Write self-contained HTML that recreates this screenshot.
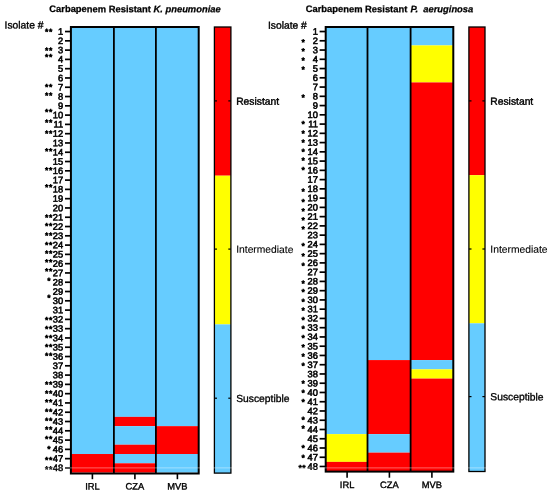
<!DOCTYPE html>
<html lang="en"><head><meta charset="utf-8"><title>Carbapenem Resistant isolates</title>
<style>html,body{margin:0;padding:0;background:#fff}body{width:550px;height:494px;overflow:hidden}svg{display:block}text{font-family:"Liberation Sans",sans-serif;fill:#000}.n{font-size:9.33px;text-anchor:end;stroke:#000;stroke-width:.55px}.a{font-size:8.6px;text-anchor:middle;stroke:#000;stroke-width:.65px;letter-spacing:.45px}.x{font-size:9.33px;text-anchor:middle;stroke:#000;stroke-width:.35px}.l{font-size:10.3px;stroke:#000;stroke-width:.12px}.iso{stroke-width:.35px}.lr{stroke-width:.4px}.ls{stroke-width:.32px}.t{font-size:9.4px;font-weight:bold;stroke:#000;stroke-width:.25px}.i{font-style:italic}</style></head><body>
<svg width="550" height="494" viewBox="0 0 550 494">
<rect width="550" height="494" fill="#fff"/>
<rect x="70.90" y="26.90" width="43.00" height="427.11" fill="#66ccff"/>
<rect x="70.90" y="454.01" width="43.00" height="18.57" fill="#ff0000"/>
<rect x="113.90" y="26.90" width="42.00" height="389.97" fill="#66ccff"/>
<rect x="113.90" y="416.87" width="42.00" height="9.28" fill="#ff0000"/>
<rect x="113.90" y="426.15" width="42.00" height="18.57" fill="#66ccff"/>
<rect x="113.90" y="444.72" width="42.00" height="9.29" fill="#ff0000"/>
<rect x="113.90" y="454.01" width="42.00" height="9.28" fill="#66ccff"/>
<rect x="113.90" y="463.29" width="42.00" height="9.29" fill="#ff0000"/>
<rect x="155.90" y="26.90" width="42.80" height="399.25" fill="#66ccff"/>
<rect x="155.90" y="426.15" width="42.80" height="27.86" fill="#ff0000"/>
<rect x="155.90" y="454.01" width="42.80" height="18.57" fill="#66ccff"/>
<rect x="70.90" y="27" width="127.80" height="446.50" fill="none" stroke="#000" stroke-width="2"/>
<line x1="113.90" y1="27" x2="113.90" y2="473.50" stroke="#000" stroke-width="1.8"/>
<line x1="155.90" y1="27" x2="155.90" y2="473.50" stroke="#000" stroke-width="1.8"/>
<line x1="65.00" y1="31.54" x2="70.90" y2="31.54" stroke="#000" stroke-width="1.7"/>
<text class="n" x="63.20" y="34.74" transform="rotate(0.05 63.20 34.74)">1</text>
<line x1="65.00" y1="40.83" x2="70.90" y2="40.83" stroke="#000" stroke-width="1.7"/>
<text class="n" x="63.20" y="44.03" transform="rotate(0.05 63.20 44.03)">2</text>
<line x1="65.00" y1="50.11" x2="70.90" y2="50.11" stroke="#000" stroke-width="1.7"/>
<text class="n" x="63.20" y="53.31" transform="rotate(0.05 63.20 53.31)">3</text>
<line x1="65.00" y1="59.40" x2="70.90" y2="59.40" stroke="#000" stroke-width="1.7"/>
<text class="n" x="63.20" y="62.60" transform="rotate(0.05 63.20 62.60)">4</text>
<line x1="65.00" y1="68.68" x2="70.90" y2="68.68" stroke="#000" stroke-width="1.7"/>
<text class="n" x="63.20" y="71.88" transform="rotate(0.05 63.20 71.88)">5</text>
<line x1="65.00" y1="77.97" x2="70.90" y2="77.97" stroke="#000" stroke-width="1.7"/>
<text class="n" x="63.20" y="81.17" transform="rotate(0.05 63.20 81.17)">6</text>
<line x1="65.00" y1="87.25" x2="70.90" y2="87.25" stroke="#000" stroke-width="1.7"/>
<text class="n" x="63.20" y="90.45" transform="rotate(0.05 63.20 90.45)">7</text>
<line x1="65.00" y1="96.54" x2="70.90" y2="96.54" stroke="#000" stroke-width="1.7"/>
<text class="n" x="63.20" y="99.74" transform="rotate(0.05 63.20 99.74)">8</text>
<line x1="65.00" y1="105.82" x2="70.90" y2="105.82" stroke="#000" stroke-width="1.7"/>
<text class="n" x="63.20" y="109.02" transform="rotate(0.05 63.20 109.02)">9</text>
<line x1="65.00" y1="115.11" x2="70.90" y2="115.11" stroke="#000" stroke-width="1.7"/>
<text class="n" x="63.20" y="118.31" transform="rotate(0.05 63.20 118.31)">10</text>
<line x1="65.00" y1="124.39" x2="70.90" y2="124.39" stroke="#000" stroke-width="1.7"/>
<text class="n" x="63.20" y="127.59" transform="rotate(0.05 63.20 127.59)">11</text>
<line x1="65.00" y1="133.68" x2="70.90" y2="133.68" stroke="#000" stroke-width="1.7"/>
<text class="n" x="63.20" y="136.88" transform="rotate(0.05 63.20 136.88)">12</text>
<line x1="65.00" y1="142.96" x2="70.90" y2="142.96" stroke="#000" stroke-width="1.7"/>
<text class="n" x="63.20" y="146.16" transform="rotate(0.05 63.20 146.16)">13</text>
<line x1="65.00" y1="152.25" x2="70.90" y2="152.25" stroke="#000" stroke-width="1.7"/>
<text class="n" x="63.20" y="155.45" transform="rotate(0.05 63.20 155.45)">14</text>
<line x1="65.00" y1="161.53" x2="70.90" y2="161.53" stroke="#000" stroke-width="1.7"/>
<text class="n" x="63.20" y="164.73" transform="rotate(0.05 63.20 164.73)">15</text>
<line x1="65.00" y1="170.82" x2="70.90" y2="170.82" stroke="#000" stroke-width="1.7"/>
<text class="n" x="63.20" y="174.02" transform="rotate(0.05 63.20 174.02)">16</text>
<line x1="65.00" y1="180.10" x2="70.90" y2="180.10" stroke="#000" stroke-width="1.7"/>
<text class="n" x="63.20" y="183.30" transform="rotate(0.05 63.20 183.30)">17</text>
<line x1="65.00" y1="189.39" x2="70.90" y2="189.39" stroke="#000" stroke-width="1.7"/>
<text class="n" x="63.20" y="192.59" transform="rotate(0.05 63.20 192.59)">18</text>
<line x1="65.00" y1="198.67" x2="70.90" y2="198.67" stroke="#000" stroke-width="1.7"/>
<text class="n" x="63.20" y="201.87" transform="rotate(0.05 63.20 201.87)">19</text>
<line x1="65.00" y1="207.96" x2="70.90" y2="207.96" stroke="#000" stroke-width="1.7"/>
<text class="n" x="63.20" y="211.16" transform="rotate(0.05 63.20 211.16)">20</text>
<line x1="65.00" y1="217.24" x2="70.90" y2="217.24" stroke="#000" stroke-width="1.7"/>
<text class="n" x="63.20" y="220.44" transform="rotate(0.05 63.20 220.44)">21</text>
<line x1="65.00" y1="226.53" x2="70.90" y2="226.53" stroke="#000" stroke-width="1.7"/>
<text class="n" x="63.20" y="229.73" transform="rotate(0.05 63.20 229.73)">22</text>
<line x1="65.00" y1="235.81" x2="70.90" y2="235.81" stroke="#000" stroke-width="1.7"/>
<text class="n" x="63.20" y="239.01" transform="rotate(0.05 63.20 239.01)">23</text>
<line x1="65.00" y1="245.10" x2="70.90" y2="245.10" stroke="#000" stroke-width="1.7"/>
<text class="n" x="63.20" y="248.30" transform="rotate(0.05 63.20 248.30)">24</text>
<line x1="65.00" y1="254.38" x2="70.90" y2="254.38" stroke="#000" stroke-width="1.7"/>
<text class="n" x="63.20" y="257.58" transform="rotate(0.05 63.20 257.58)">25</text>
<line x1="65.00" y1="263.67" x2="70.90" y2="263.67" stroke="#000" stroke-width="1.7"/>
<text class="n" x="63.20" y="266.87" transform="rotate(0.05 63.20 266.87)">26</text>
<line x1="65.00" y1="272.95" x2="70.90" y2="272.95" stroke="#000" stroke-width="1.7"/>
<text class="n" x="63.20" y="276.15" transform="rotate(0.05 63.20 276.15)">27</text>
<line x1="65.00" y1="282.24" x2="70.90" y2="282.24" stroke="#000" stroke-width="1.7"/>
<text class="n" x="63.20" y="285.44" transform="rotate(0.05 63.20 285.44)">28</text>
<line x1="65.00" y1="291.52" x2="70.90" y2="291.52" stroke="#000" stroke-width="1.7"/>
<text class="n" x="63.20" y="294.72" transform="rotate(0.05 63.20 294.72)">29</text>
<line x1="65.00" y1="300.81" x2="70.90" y2="300.81" stroke="#000" stroke-width="1.7"/>
<text class="n" x="63.20" y="304.01" transform="rotate(0.05 63.20 304.01)">30</text>
<line x1="65.00" y1="310.09" x2="70.90" y2="310.09" stroke="#000" stroke-width="1.7"/>
<text class="n" x="63.20" y="313.29" transform="rotate(0.05 63.20 313.29)">31</text>
<line x1="65.00" y1="319.38" x2="70.90" y2="319.38" stroke="#000" stroke-width="1.7"/>
<text class="n" x="63.20" y="322.58" transform="rotate(0.05 63.20 322.58)">32</text>
<line x1="65.00" y1="328.66" x2="70.90" y2="328.66" stroke="#000" stroke-width="1.7"/>
<text class="n" x="63.20" y="331.86" transform="rotate(0.05 63.20 331.86)">33</text>
<line x1="65.00" y1="337.95" x2="70.90" y2="337.95" stroke="#000" stroke-width="1.7"/>
<text class="n" x="63.20" y="341.15" transform="rotate(0.05 63.20 341.15)">34</text>
<line x1="65.00" y1="347.23" x2="70.90" y2="347.23" stroke="#000" stroke-width="1.7"/>
<text class="n" x="63.20" y="350.43" transform="rotate(0.05 63.20 350.43)">35</text>
<line x1="65.00" y1="356.52" x2="70.90" y2="356.52" stroke="#000" stroke-width="1.7"/>
<text class="n" x="63.20" y="359.72" transform="rotate(0.05 63.20 359.72)">36</text>
<line x1="65.00" y1="365.80" x2="70.90" y2="365.80" stroke="#000" stroke-width="1.7"/>
<text class="n" x="63.20" y="369.00" transform="rotate(0.05 63.20 369.00)">37</text>
<line x1="65.00" y1="375.09" x2="70.90" y2="375.09" stroke="#000" stroke-width="1.7"/>
<text class="n" x="63.20" y="378.29" transform="rotate(0.05 63.20 378.29)">38</text>
<line x1="65.00" y1="384.37" x2="70.90" y2="384.37" stroke="#000" stroke-width="1.7"/>
<text class="n" x="63.20" y="387.57" transform="rotate(0.05 63.20 387.57)">39</text>
<line x1="65.00" y1="393.66" x2="70.90" y2="393.66" stroke="#000" stroke-width="1.7"/>
<text class="n" x="63.20" y="396.86" transform="rotate(0.05 63.20 396.86)">40</text>
<line x1="65.00" y1="402.94" x2="70.90" y2="402.94" stroke="#000" stroke-width="1.7"/>
<text class="n" x="63.20" y="406.14" transform="rotate(0.05 63.20 406.14)">41</text>
<line x1="65.00" y1="412.23" x2="70.90" y2="412.23" stroke="#000" stroke-width="1.7"/>
<text class="n" x="63.20" y="415.43" transform="rotate(0.05 63.20 415.43)">42</text>
<line x1="65.00" y1="421.51" x2="70.90" y2="421.51" stroke="#000" stroke-width="1.7"/>
<text class="n" x="63.20" y="424.71" transform="rotate(0.05 63.20 424.71)">43</text>
<line x1="65.00" y1="430.80" x2="70.90" y2="430.80" stroke="#000" stroke-width="1.7"/>
<text class="n" x="63.20" y="434.00" transform="rotate(0.05 63.20 434.00)">44</text>
<line x1="65.00" y1="440.08" x2="70.90" y2="440.08" stroke="#000" stroke-width="1.7"/>
<text class="n" x="63.20" y="443.28" transform="rotate(0.05 63.20 443.28)">45</text>
<line x1="65.00" y1="449.37" x2="70.90" y2="449.37" stroke="#000" stroke-width="1.7"/>
<text class="n" x="63.20" y="452.57" transform="rotate(0.05 63.20 452.57)">46</text>
<line x1="65.00" y1="458.65" x2="70.90" y2="458.65" stroke="#000" stroke-width="1.7"/>
<text class="n" x="63.20" y="461.85" transform="rotate(0.05 63.20 461.85)">47</text>
<line x1="65.00" y1="467.94" x2="70.90" y2="467.94" stroke="#000" stroke-width="1.7"/>
<text class="n" x="63.20" y="471.14" transform="rotate(0.05 63.20 471.14)">48</text>
<text class="a" x="48.90" y="34.80" transform="rotate(0.05 48.90 34.80)">**</text>
<text class="a" x="48.90" y="53.60" transform="rotate(0.05 48.90 53.60)">**</text>
<text class="a" x="48.90" y="60.00" transform="rotate(0.05 48.90 60.00)">**</text>
<text class="a" x="48.90" y="90.10" transform="rotate(0.05 48.90 90.10)">**</text>
<text class="a" x="48.90" y="98.40" transform="rotate(0.05 48.90 98.40)">**</text>
<text class="a" x="48.90" y="115.00" transform="rotate(0.05 48.90 115.00)">**</text>
<text class="a" x="48.90" y="125.60" transform="rotate(0.05 48.90 125.60)">**</text>
<text class="a" x="48.90" y="136.60" transform="rotate(0.05 48.90 136.60)">**</text>
<text class="a" x="48.90" y="154.30" transform="rotate(0.05 48.90 154.30)">**</text>
<text class="a" x="48.90" y="173.20" transform="rotate(0.05 48.90 173.20)">**</text>
<text class="a" x="48.90" y="190.30" transform="rotate(0.05 48.90 190.30)">**</text>
<text class="a" x="48.90" y="220.40" transform="rotate(0.05 48.90 220.40)">**</text>
<text class="a" x="48.90" y="229.10" transform="rotate(0.05 48.90 229.10)">**</text>
<text class="a" x="48.90" y="238.40" transform="rotate(0.05 48.90 238.40)">**</text>
<text class="a" x="48.90" y="247.90" transform="rotate(0.05 48.90 247.90)">**</text>
<text class="a" x="48.90" y="256.40" transform="rotate(0.05 48.90 256.40)">**</text>
<text class="a" x="48.90" y="265.30" transform="rotate(0.05 48.90 265.30)">**</text>
<text class="a" x="48.90" y="274.30" transform="rotate(0.05 48.90 274.30)">**</text>
<text class="a" x="49.10" y="283.80" transform="rotate(0.05 49.10 283.80)">*</text>
<text class="a" x="49.10" y="300.80" transform="rotate(0.05 49.10 300.80)">*</text>
<text class="a" x="48.90" y="322.90" transform="rotate(0.05 48.90 322.90)">**</text>
<text class="a" x="48.90" y="332.10" transform="rotate(0.05 48.90 332.10)">**</text>
<text class="a" x="48.90" y="341.10" transform="rotate(0.05 48.90 341.10)">**</text>
<text class="a" x="48.90" y="349.90" transform="rotate(0.05 48.90 349.90)">**</text>
<text class="a" x="48.90" y="358.80" transform="rotate(0.05 48.90 358.80)">**</text>
<text class="a" x="48.90" y="387.50" transform="rotate(0.05 48.90 387.50)">**</text>
<text class="a" x="48.90" y="396.60" transform="rotate(0.05 48.90 396.60)">**</text>
<text class="a" x="48.90" y="405.30" transform="rotate(0.05 48.90 405.30)">**</text>
<text class="a" x="48.90" y="414.70" transform="rotate(0.05 48.90 414.70)">**</text>
<text class="a" x="48.90" y="423.70" transform="rotate(0.05 48.90 423.70)">**</text>
<text class="a" x="48.90" y="432.50" transform="rotate(0.05 48.90 432.50)">**</text>
<text class="a" x="48.90" y="442.10" transform="rotate(0.05 48.90 442.10)">**</text>
<text class="a" x="49.10" y="452.00" transform="rotate(0.05 49.10 452.00)">*</text>
<text class="a" x="48.90" y="462.90" transform="rotate(0.05 48.90 462.90)">**</text>
<text class="a" x="48.90" y="472.20" transform="rotate(0.05 48.90 472.20)">**</text>
<line x1="92.40" y1="473.50" x2="92.40" y2="479.20" stroke="#000" stroke-width="1.6"/>
<text class="x" x="92.40" y="489.40" transform="rotate(0.05 92.40 489.40)">IRL</text>
<line x1="134.90" y1="473.50" x2="134.90" y2="479.20" stroke="#000" stroke-width="1.6"/>
<text class="x" x="134.90" y="489.40" transform="rotate(0.05 134.90 489.40)">CZA</text>
<line x1="177.40" y1="473.50" x2="177.40" y2="479.20" stroke="#000" stroke-width="1.6"/>
<text class="x" x="177.40" y="489.40" transform="rotate(0.05 177.40 489.40)">MVB</text>
<text class="t" x="49.3" y="12.1" transform="rotate(0.05 49.3 12.1)">Carbapenem Resistant <tspan class="i">K. pneumoniae</tspan></text>
<text class="l iso" x="4.60" y="28.60" transform="rotate(0.05 4.60 28.60)">Isolate #</text>
<rect x="214.40" y="27.00" width="16.50" height="148.70" fill="#ff0000"/>
<rect x="214.40" y="175.70" width="16.50" height="148.70" fill="#ffff00"/>
<rect x="214.40" y="324.40" width="16.50" height="148.70" fill="#66ccff"/>
<rect x="214.40" y="27.00" width="16.50" height="446.10" fill="none" stroke="#000" stroke-width="1.3"/>
<line x1="214.40" y1="100.90" x2="217.00" y2="100.90" stroke="#000" stroke-width="1.2"/>
<line x1="228.30" y1="100.90" x2="230.90" y2="100.90" stroke="#000" stroke-width="1.2"/>
<text class="l lr" x="236.20" y="104.65" transform="rotate(0.05 236.20 104.65)">Resistant</text>
<line x1="214.40" y1="249.10" x2="217.00" y2="249.10" stroke="#000" stroke-width="1.2"/>
<line x1="228.30" y1="249.10" x2="230.90" y2="249.10" stroke="#000" stroke-width="1.2"/>
<text class="l" x="236.20" y="252.85" transform="rotate(0.05 236.20 252.85)">Intermediate</text>
<line x1="214.40" y1="398.20" x2="217.00" y2="398.20" stroke="#000" stroke-width="1.2"/>
<line x1="228.30" y1="398.20" x2="230.90" y2="398.20" stroke="#000" stroke-width="1.2"/>
<text class="l ls" x="236.20" y="401.95" transform="rotate(0.05 236.20 401.95)">Susceptible</text>
<rect x="325.70" y="26.90" width="41.80" height="407.22" fill="#66ccff"/>
<rect x="325.70" y="434.12" width="41.80" height="27.76" fill="#ffff00"/>
<rect x="325.70" y="461.88" width="41.80" height="9.25" fill="#ff0000"/>
<rect x="367.50" y="26.90" width="43.10" height="333.18" fill="#66ccff"/>
<rect x="367.50" y="360.08" width="43.10" height="74.04" fill="#ff0000"/>
<rect x="367.50" y="434.12" width="43.10" height="18.51" fill="#66ccff"/>
<rect x="367.50" y="452.63" width="43.10" height="18.51" fill="#ff0000"/>
<rect x="410.60" y="26.90" width="42.70" height="18.51" fill="#66ccff"/>
<rect x="410.60" y="45.41" width="42.70" height="37.02" fill="#ffff00"/>
<rect x="410.60" y="82.43" width="42.70" height="277.65" fill="#ff0000"/>
<rect x="410.60" y="360.08" width="42.70" height="9.25" fill="#66ccff"/>
<rect x="410.60" y="369.33" width="42.70" height="9.26" fill="#ffff00"/>
<rect x="410.60" y="378.59" width="42.70" height="92.55" fill="#ff0000"/>
<rect x="325.70" y="27" width="127.60" height="444.60" fill="none" stroke="#000" stroke-width="2"/>
<line x1="367.50" y1="27" x2="367.50" y2="471.60" stroke="#000" stroke-width="1.8"/>
<line x1="410.60" y1="27" x2="410.60" y2="471.60" stroke="#000" stroke-width="1.8"/>
<line x1="319.60" y1="31.53" x2="325.70" y2="31.53" stroke="#000" stroke-width="1.7"/>
<text class="n" x="317.95" y="34.73" transform="rotate(0.05 317.95 34.73)">1</text>
<line x1="319.60" y1="40.78" x2="325.70" y2="40.78" stroke="#000" stroke-width="1.7"/>
<text class="n" x="317.95" y="43.98" transform="rotate(0.05 317.95 43.98)">2</text>
<line x1="319.60" y1="50.04" x2="325.70" y2="50.04" stroke="#000" stroke-width="1.7"/>
<text class="n" x="317.95" y="53.24" transform="rotate(0.05 317.95 53.24)">3</text>
<line x1="319.60" y1="59.29" x2="325.70" y2="59.29" stroke="#000" stroke-width="1.7"/>
<text class="n" x="317.95" y="62.49" transform="rotate(0.05 317.95 62.49)">4</text>
<line x1="319.60" y1="68.55" x2="325.70" y2="68.55" stroke="#000" stroke-width="1.7"/>
<text class="n" x="317.95" y="71.75" transform="rotate(0.05 317.95 71.75)">5</text>
<line x1="319.60" y1="77.80" x2="325.70" y2="77.80" stroke="#000" stroke-width="1.7"/>
<text class="n" x="317.95" y="81.00" transform="rotate(0.05 317.95 81.00)">6</text>
<line x1="319.60" y1="87.06" x2="325.70" y2="87.06" stroke="#000" stroke-width="1.7"/>
<text class="n" x="317.95" y="90.26" transform="rotate(0.05 317.95 90.26)">7</text>
<line x1="319.60" y1="96.31" x2="325.70" y2="96.31" stroke="#000" stroke-width="1.7"/>
<text class="n" x="317.95" y="99.51" transform="rotate(0.05 317.95 99.51)">8</text>
<line x1="319.60" y1="105.57" x2="325.70" y2="105.57" stroke="#000" stroke-width="1.7"/>
<text class="n" x="317.95" y="108.77" transform="rotate(0.05 317.95 108.77)">9</text>
<line x1="319.60" y1="114.82" x2="325.70" y2="114.82" stroke="#000" stroke-width="1.7"/>
<text class="n" x="317.95" y="118.02" transform="rotate(0.05 317.95 118.02)">10</text>
<line x1="319.60" y1="124.08" x2="325.70" y2="124.08" stroke="#000" stroke-width="1.7"/>
<text class="n" x="317.95" y="127.28" transform="rotate(0.05 317.95 127.28)">11</text>
<line x1="319.60" y1="133.33" x2="325.70" y2="133.33" stroke="#000" stroke-width="1.7"/>
<text class="n" x="317.95" y="136.53" transform="rotate(0.05 317.95 136.53)">12</text>
<line x1="319.60" y1="142.59" x2="325.70" y2="142.59" stroke="#000" stroke-width="1.7"/>
<text class="n" x="317.95" y="145.79" transform="rotate(0.05 317.95 145.79)">13</text>
<line x1="319.60" y1="151.84" x2="325.70" y2="151.84" stroke="#000" stroke-width="1.7"/>
<text class="n" x="317.95" y="155.04" transform="rotate(0.05 317.95 155.04)">14</text>
<line x1="319.60" y1="161.10" x2="325.70" y2="161.10" stroke="#000" stroke-width="1.7"/>
<text class="n" x="317.95" y="164.30" transform="rotate(0.05 317.95 164.30)">15</text>
<line x1="319.60" y1="170.35" x2="325.70" y2="170.35" stroke="#000" stroke-width="1.7"/>
<text class="n" x="317.95" y="173.55" transform="rotate(0.05 317.95 173.55)">16</text>
<line x1="319.60" y1="179.61" x2="325.70" y2="179.61" stroke="#000" stroke-width="1.7"/>
<text class="n" x="317.95" y="182.81" transform="rotate(0.05 317.95 182.81)">17</text>
<line x1="319.60" y1="188.86" x2="325.70" y2="188.86" stroke="#000" stroke-width="1.7"/>
<text class="n" x="317.95" y="192.06" transform="rotate(0.05 317.95 192.06)">18</text>
<line x1="319.60" y1="198.12" x2="325.70" y2="198.12" stroke="#000" stroke-width="1.7"/>
<text class="n" x="317.95" y="201.32" transform="rotate(0.05 317.95 201.32)">19</text>
<line x1="319.60" y1="207.37" x2="325.70" y2="207.37" stroke="#000" stroke-width="1.7"/>
<text class="n" x="317.95" y="210.57" transform="rotate(0.05 317.95 210.57)">20</text>
<line x1="319.60" y1="216.63" x2="325.70" y2="216.63" stroke="#000" stroke-width="1.7"/>
<text class="n" x="317.95" y="219.83" transform="rotate(0.05 317.95 219.83)">21</text>
<line x1="319.60" y1="225.88" x2="325.70" y2="225.88" stroke="#000" stroke-width="1.7"/>
<text class="n" x="317.95" y="229.08" transform="rotate(0.05 317.95 229.08)">22</text>
<line x1="319.60" y1="235.14" x2="325.70" y2="235.14" stroke="#000" stroke-width="1.7"/>
<text class="n" x="317.95" y="238.34" transform="rotate(0.05 317.95 238.34)">23</text>
<line x1="319.60" y1="244.39" x2="325.70" y2="244.39" stroke="#000" stroke-width="1.7"/>
<text class="n" x="317.95" y="247.59" transform="rotate(0.05 317.95 247.59)">24</text>
<line x1="319.60" y1="253.65" x2="325.70" y2="253.65" stroke="#000" stroke-width="1.7"/>
<text class="n" x="317.95" y="256.85" transform="rotate(0.05 317.95 256.85)">25</text>
<line x1="319.60" y1="262.90" x2="325.70" y2="262.90" stroke="#000" stroke-width="1.7"/>
<text class="n" x="317.95" y="266.10" transform="rotate(0.05 317.95 266.10)">26</text>
<line x1="319.60" y1="272.16" x2="325.70" y2="272.16" stroke="#000" stroke-width="1.7"/>
<text class="n" x="317.95" y="275.36" transform="rotate(0.05 317.95 275.36)">27</text>
<line x1="319.60" y1="281.41" x2="325.70" y2="281.41" stroke="#000" stroke-width="1.7"/>
<text class="n" x="317.95" y="284.61" transform="rotate(0.05 317.95 284.61)">28</text>
<line x1="319.60" y1="290.67" x2="325.70" y2="290.67" stroke="#000" stroke-width="1.7"/>
<text class="n" x="317.95" y="293.87" transform="rotate(0.05 317.95 293.87)">29</text>
<line x1="319.60" y1="299.92" x2="325.70" y2="299.92" stroke="#000" stroke-width="1.7"/>
<text class="n" x="317.95" y="303.12" transform="rotate(0.05 317.95 303.12)">30</text>
<line x1="319.60" y1="309.18" x2="325.70" y2="309.18" stroke="#000" stroke-width="1.7"/>
<text class="n" x="317.95" y="312.38" transform="rotate(0.05 317.95 312.38)">31</text>
<line x1="319.60" y1="318.43" x2="325.70" y2="318.43" stroke="#000" stroke-width="1.7"/>
<text class="n" x="317.95" y="321.63" transform="rotate(0.05 317.95 321.63)">32</text>
<line x1="319.60" y1="327.69" x2="325.70" y2="327.69" stroke="#000" stroke-width="1.7"/>
<text class="n" x="317.95" y="330.89" transform="rotate(0.05 317.95 330.89)">33</text>
<line x1="319.60" y1="336.94" x2="325.70" y2="336.94" stroke="#000" stroke-width="1.7"/>
<text class="n" x="317.95" y="340.14" transform="rotate(0.05 317.95 340.14)">34</text>
<line x1="319.60" y1="346.20" x2="325.70" y2="346.20" stroke="#000" stroke-width="1.7"/>
<text class="n" x="317.95" y="349.40" transform="rotate(0.05 317.95 349.40)">35</text>
<line x1="319.60" y1="355.45" x2="325.70" y2="355.45" stroke="#000" stroke-width="1.7"/>
<text class="n" x="317.95" y="358.65" transform="rotate(0.05 317.95 358.65)">36</text>
<line x1="319.60" y1="364.71" x2="325.70" y2="364.71" stroke="#000" stroke-width="1.7"/>
<text class="n" x="317.95" y="367.91" transform="rotate(0.05 317.95 367.91)">37</text>
<line x1="319.60" y1="373.96" x2="325.70" y2="373.96" stroke="#000" stroke-width="1.7"/>
<text class="n" x="317.95" y="377.16" transform="rotate(0.05 317.95 377.16)">38</text>
<line x1="319.60" y1="383.22" x2="325.70" y2="383.22" stroke="#000" stroke-width="1.7"/>
<text class="n" x="317.95" y="386.42" transform="rotate(0.05 317.95 386.42)">39</text>
<line x1="319.60" y1="392.47" x2="325.70" y2="392.47" stroke="#000" stroke-width="1.7"/>
<text class="n" x="317.95" y="395.67" transform="rotate(0.05 317.95 395.67)">40</text>
<line x1="319.60" y1="401.73" x2="325.70" y2="401.73" stroke="#000" stroke-width="1.7"/>
<text class="n" x="317.95" y="404.93" transform="rotate(0.05 317.95 404.93)">41</text>
<line x1="319.60" y1="410.98" x2="325.70" y2="410.98" stroke="#000" stroke-width="1.7"/>
<text class="n" x="317.95" y="414.18" transform="rotate(0.05 317.95 414.18)">42</text>
<line x1="319.60" y1="420.24" x2="325.70" y2="420.24" stroke="#000" stroke-width="1.7"/>
<text class="n" x="317.95" y="423.44" transform="rotate(0.05 317.95 423.44)">43</text>
<line x1="319.60" y1="429.49" x2="325.70" y2="429.49" stroke="#000" stroke-width="1.7"/>
<text class="n" x="317.95" y="432.69" transform="rotate(0.05 317.95 432.69)">44</text>
<line x1="319.60" y1="438.75" x2="325.70" y2="438.75" stroke="#000" stroke-width="1.7"/>
<text class="n" x="317.95" y="441.95" transform="rotate(0.05 317.95 441.95)">45</text>
<line x1="319.60" y1="448.00" x2="325.70" y2="448.00" stroke="#000" stroke-width="1.7"/>
<text class="n" x="317.95" y="451.20" transform="rotate(0.05 317.95 451.20)">46</text>
<line x1="319.60" y1="457.26" x2="325.70" y2="457.26" stroke="#000" stroke-width="1.7"/>
<text class="n" x="317.95" y="460.46" transform="rotate(0.05 317.95 460.46)">47</text>
<line x1="319.60" y1="466.51" x2="325.70" y2="466.51" stroke="#000" stroke-width="1.7"/>
<text class="n" x="317.95" y="469.71" transform="rotate(0.05 317.95 469.71)">48</text>
<text class="a" x="303.50" y="45.30" transform="rotate(0.05 303.50 45.30)">*</text>
<text class="a" x="303.50" y="54.30" transform="rotate(0.05 303.50 54.30)">*</text>
<text class="a" x="303.50" y="63.50" transform="rotate(0.05 303.50 63.50)">*</text>
<text class="a" x="303.50" y="72.50" transform="rotate(0.05 303.50 72.50)">*</text>
<text class="a" x="303.50" y="100.60" transform="rotate(0.05 303.50 100.60)">*</text>
<text class="a" x="303.50" y="127.10" transform="rotate(0.05 303.50 127.10)">*</text>
<text class="a" x="303.50" y="136.60" transform="rotate(0.05 303.50 136.60)">*</text>
<text class="a" x="303.50" y="145.50" transform="rotate(0.05 303.50 145.50)">*</text>
<text class="a" x="303.50" y="154.70" transform="rotate(0.05 303.50 154.70)">*</text>
<text class="a" x="303.50" y="163.60" transform="rotate(0.05 303.50 163.60)">*</text>
<text class="a" x="303.50" y="172.95" transform="rotate(0.05 303.50 172.95)">*</text>
<text class="a" x="303.50" y="194.40" transform="rotate(0.05 303.50 194.40)">*</text>
<text class="a" x="303.50" y="204.90" transform="rotate(0.05 303.50 204.90)">*</text>
<text class="a" x="303.50" y="214.20" transform="rotate(0.05 303.50 214.20)">*</text>
<text class="a" x="303.50" y="223.20" transform="rotate(0.05 303.50 223.20)">*</text>
<text class="a" x="303.50" y="232.30" transform="rotate(0.05 303.50 232.30)">*</text>
<text class="a" x="303.50" y="249.00" transform="rotate(0.05 303.50 249.00)">*</text>
<text class="a" x="303.50" y="259.20" transform="rotate(0.05 303.50 259.20)">*</text>
<text class="a" x="303.50" y="268.80" transform="rotate(0.05 303.50 268.80)">*</text>
<text class="a" x="303.50" y="286.40" transform="rotate(0.05 303.50 286.40)">*</text>
<text class="a" x="303.50" y="295.10" transform="rotate(0.05 303.50 295.10)">*</text>
<text class="a" x="303.50" y="304.70" transform="rotate(0.05 303.50 304.70)">*</text>
<text class="a" x="303.50" y="313.60" transform="rotate(0.05 303.50 313.60)">*</text>
<text class="a" x="303.50" y="322.90" transform="rotate(0.05 303.50 322.90)">*</text>
<text class="a" x="303.50" y="331.80" transform="rotate(0.05 303.50 331.80)">*</text>
<text class="a" x="303.50" y="341.10" transform="rotate(0.05 303.50 341.10)">*</text>
<text class="a" x="303.50" y="350.30" transform="rotate(0.05 303.50 350.30)">*</text>
<text class="a" x="303.50" y="359.40" transform="rotate(0.05 303.50 359.40)">*</text>
<text class="a" x="303.50" y="368.70" transform="rotate(0.05 303.50 368.70)">*</text>
<text class="a" x="303.50" y="386.60" transform="rotate(0.05 303.50 386.60)">*</text>
<text class="a" x="303.50" y="395.80" transform="rotate(0.05 303.50 395.80)">*</text>
<text class="a" x="303.50" y="404.90" transform="rotate(0.05 303.50 404.90)">*</text>
<text class="a" x="303.50" y="422.70" transform="rotate(0.05 303.50 422.70)">*</text>
<text class="a" x="303.50" y="431.40" transform="rotate(0.05 303.50 431.40)">*</text>
<text class="a" x="303.50" y="451.10" transform="rotate(0.05 303.50 451.10)">*</text>
<text class="a" x="303.50" y="460.70" transform="rotate(0.05 303.50 460.70)">*</text>
<text class="a" x="302.20" y="470.90" transform="rotate(0.05 302.20 470.90)">**</text>
<line x1="347.10" y1="471.60" x2="347.10" y2="477.70" stroke="#000" stroke-width="1.6"/>
<text class="x" x="347.10" y="488.10" transform="rotate(0.05 347.10 488.10)">IRL</text>
<line x1="389.40" y1="471.60" x2="389.40" y2="477.70" stroke="#000" stroke-width="1.6"/>
<text class="x" x="389.40" y="488.10" transform="rotate(0.05 389.40 488.10)">CZA</text>
<line x1="431.90" y1="471.60" x2="431.90" y2="477.70" stroke="#000" stroke-width="1.6"/>
<text class="x" x="431.90" y="488.10" transform="rotate(0.05 431.90 488.10)">MVB</text>
<text class="t" x="305.7" y="12.1" xml:space="preserve" transform="rotate(0.05 305.7 12.1)">Carbapenem Resistant <tspan class="i" dx="0.5">P.  aeruginosa</tspan></text>
<text class="l iso" x="267.90" y="28.80" transform="rotate(0.05 267.90 28.80)">Isolate #</text>
<rect x="468.90" y="27.00" width="16.10" height="148.17" fill="#ff0000"/>
<rect x="468.90" y="175.17" width="16.10" height="148.17" fill="#ffff00"/>
<rect x="468.90" y="323.33" width="16.10" height="148.17" fill="#66ccff"/>
<rect x="468.90" y="27.00" width="16.10" height="444.50" fill="none" stroke="#000" stroke-width="1.3"/>
<line x1="468.90" y1="100.90" x2="471.50" y2="100.90" stroke="#000" stroke-width="1.2"/>
<line x1="482.40" y1="100.90" x2="485.00" y2="100.90" stroke="#000" stroke-width="1.2"/>
<text class="l lr" x="490.30" y="104.65" transform="rotate(0.05 490.30 104.65)">Resistant</text>
<line x1="468.90" y1="249.00" x2="471.50" y2="249.00" stroke="#000" stroke-width="1.2"/>
<line x1="482.40" y1="249.00" x2="485.00" y2="249.00" stroke="#000" stroke-width="1.2"/>
<text class="l" x="490.30" y="252.75" transform="rotate(0.05 490.30 252.75)">Intermediate</text>
<line x1="468.90" y1="396.60" x2="471.50" y2="396.60" stroke="#000" stroke-width="1.2"/>
<line x1="482.40" y1="396.60" x2="485.00" y2="396.60" stroke="#000" stroke-width="1.2"/>
<text class="l ls" x="490.30" y="400.35" transform="rotate(0.05 490.30 400.35)">Susceptible</text>
<rect x="0" y="467.2" width="550" height="1.3" fill="#fff" opacity="0.3"/>
</svg></body></html>
